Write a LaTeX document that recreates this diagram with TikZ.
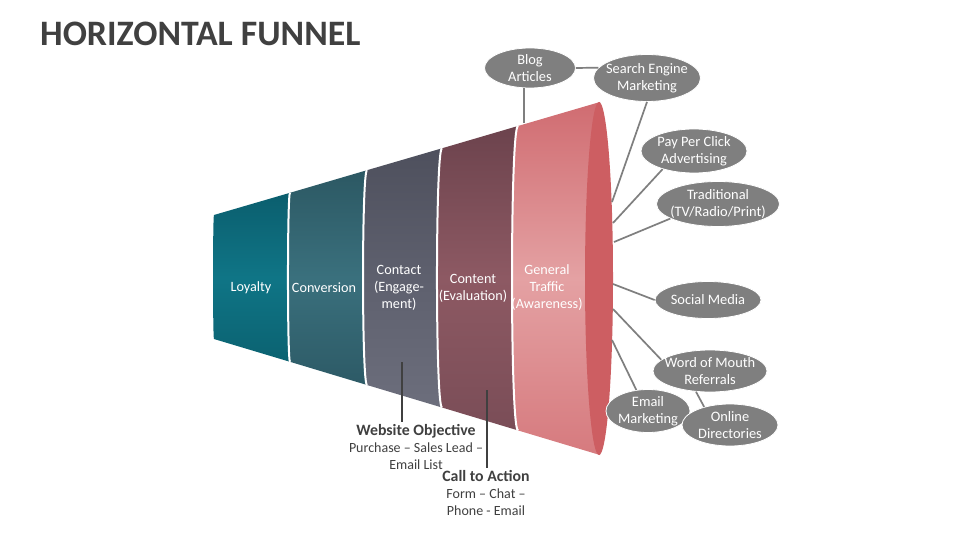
\documentclass[tikz,border=0pt]{standalone}
\usepackage{fontspec}
\setmainfont{Carlito}
\usetikzlibrary{shapes.geometric}
\definecolor{ttl}{HTML}{404040}
\definecolor{lyA}{HTML}{0B5E6E}
\definecolor{lyB}{HTML}{0F7586}
\definecolor{lyC}{HTML}{0B6271}
\definecolor{cvA}{HTML}{2C5863}
\definecolor{cvB}{HTML}{3A707D}
\definecolor{cvC}{HTML}{2D5A66}
\definecolor{ctA}{HTML}{4E505D}
\definecolor{ctB}{HTML}{5E606E}
\definecolor{ctC}{HTML}{6C6E7C}
\definecolor{cnA}{HTML}{6C434D}
\definecolor{cnB}{HTML}{8D5963}
\definecolor{cnC}{HTML}{7A4D57}
\definecolor{gtA}{HTML}{D06C71}
\definecolor{gtB}{HTML}{E4A1A3}
\definecolor{gtC}{HTML}{D67A7E}
\definecolor{rimc}{HTML}{CD5E62}
\definecolor{ellgray}{HTML}{7F7F7F}
\definecolor{conngray}{HTML}{7F7F7F}
\begin{document}
\begin{tikzpicture}[x=1pt,y=-1pt,
  seglbl/.style={text=white, align=center, inner sep=0pt, font=\fontsize{14.2}{17}\selectfont},
  ell/.style={ellipse, fill=ellgray, draw=white, line width=0.8pt, inner sep=0pt},
  elltxt/.style={text=white, align=center, inner sep=0pt, font=\fontsize{14.4}{16.8}\selectfont},
  conn/.style={draw=conngray, line width=1.7pt},
  annline/.style={draw=ttl, line width=1.1pt},
  anntxt/.style={text=ttl, align=center, inner sep=2pt, font=\fontsize{14}{17}\selectfont},
  sepline/.style={draw=white, line width=2pt}
]
\fill[white] (0,0) rectangle (960,540);
\path[use as bounding box] (0,0) rectangle (960,540);

% title
\node[anchor=base west, inner sep=0pt, text=ttl, font=\bfseries\fontsize{35.8}{40}\selectfont] (title) at (40,46) {HORIZONTAL FUNNEL};

% funnel segments
\shade[top color=lyA, bottom color=lyC, middle color=lyB]
  (214,215) .. controls (212.7,215) and (212.7,339) .. (214,339) -- (290,361.8)
  .. controls (287.3,361.8) and (287.3,192.8) .. (290,192.8) -- cycle;
\shade[top color=cvA, bottom color=cvC, middle color=cvB]
  (290,192.8) .. controls (287.3,192.8) and (287.3,361.8) .. (290,361.8) -- (367,385)
  .. controls (361.7,385) and (361.7,170.2) .. (367,170.2) -- cycle;
\shade[top color=ctA, bottom color=ctC, middle color=ctB]
  (367,170.2) .. controls (361.7,170.2) and (361.7,385) .. (367,385) -- (442,407.5)
  .. controls (435.3,407.5) and (435.3,148.3) .. (442,148.3) -- cycle;
\shade[top color=cnA, bottom color=cnC, middle color=cnB]
  (442,148.3) .. controls (435.3,148.3) and (435.3,407.5) .. (442,407.5) -- (518,430.4)
  .. controls (510,430.4) and (510,126) .. (518,126) -- cycle;
\shade[top color=gtA, bottom color=gtC, middle color=gtB]
  (518,126) .. controls (510,126) and (510,430.4) .. (518,430.4) -- (600,455) -- (600,102) -- cycle;

% separators
\draw[sepline] (290,192.8) .. controls (287.3,192.8) and (287.3,361.8) .. (290,361.8);
\draw[sepline] (367,170.2) .. controls (361.7,170.2) and (361.7,385) .. (367,385);
\draw[sepline] (442,148.3) .. controls (435.3,148.3) and (435.3,407.5) .. (442,407.5);
\draw[sepline] (518,126) .. controls (510,126) and (510,430.4) .. (518,430.4);

% rim
\fill[rimc] (599,278.5) ellipse [x radius=14, y radius=176.5];

% segment labels
\node[seglbl] (lloy) at (251,288) {Loyalty};
\node[seglbl] (lconv) at (324,288) {Conversion};
\node[seglbl] (lcont) at (399,288) {Contact\\(Engage-\\ment)};
\node[seglbl] (lcnt) at (473,288) {Content\\(Evaluation)};
\node[seglbl] (lgen) at (547,288) {General\\Traffic\\(Awareness)};

% ellipses
\node[ell, minimum width=91, minimum height=40, label={[elltxt]center:Blog\\Articles}] (blog) at (530,68) {};
\node[ell, minimum width=107, minimum height=47, label={[elltxt]center:Search Engine\\Marketing}] (sem) at (647,78) {};
\node[ell, minimum width=106, minimum height=44, label={[elltxt]center:Pay Per Click\\Advertising}] (ppc) at (694,151) {};
\node[ell, minimum width=123, minimum height=45, label={[elltxt]center:Traditional\\(TV/Radio/Print)}] (trad) at (718,204) {};
\node[ell, minimum width=106, minimum height=37, label={[elltxt]center:Social Media}] (soc) at (708,300) {};
\node[ell, minimum width=114, minimum height=42, label={[elltxt]center:Word of Mouth\\Referrals}] (wom) at (710,371) {};
\node[ell, minimum width=84, minimum height=43, label={[elltxt]center:Email\\Marketing}] (email) at (648,411) {};
\node[ell, minimum width=96, minimum height=42, label={[elltxt]center:Online\\Directories}] (onl) at (730,425) {};

% connector end points on the funnel
\coordinate (bl) at (524,123);
\coordinate (r1) at (612,202);
\coordinate (r2) at (613,223);
\coordinate (r3) at (614,242);
\coordinate (r4) at (613,284);
\coordinate (r5) at (613,309);
\coordinate (r6) at (612,340);

\draw[conn] (bl |- blog.south) -- (bl);
\draw[conn] (blog.east) -- (sem.168);
\draw[conn] (sem.south) -- (r1);
\draw[conn] (ppc.210) -- (r2);
\draw[conn] (trad.197) -- (r3);
\draw[conn] (soc.west) -- (r4);
\draw[conn] (wom.167) -- (r5);
\draw[conn] (email.119) -- (r6);
\draw[conn] (wom.236) -- (onl.145);

% annotations
\node[anntxt] (wo) at (416,447) {{\bfseries\fontsize{15.8}{17}\selectfont Website Objective}\\Purchase – Sales Lead –\\Email List};
\node[anntxt] (cta) at (486,493) {{\bfseries\fontsize{15.8}{17}\selectfont Call to Action}\\Form – Chat –\\Phone - Email};
\coordinate (wo1) at (402,362);
\coordinate (cta1) at (487,390);
\draw[annline] (wo1) -- (wo1 |- wo.north);
\draw[annline] (cta1) -- (cta1 |- cta.north);
\end{tikzpicture}
\end{document}
